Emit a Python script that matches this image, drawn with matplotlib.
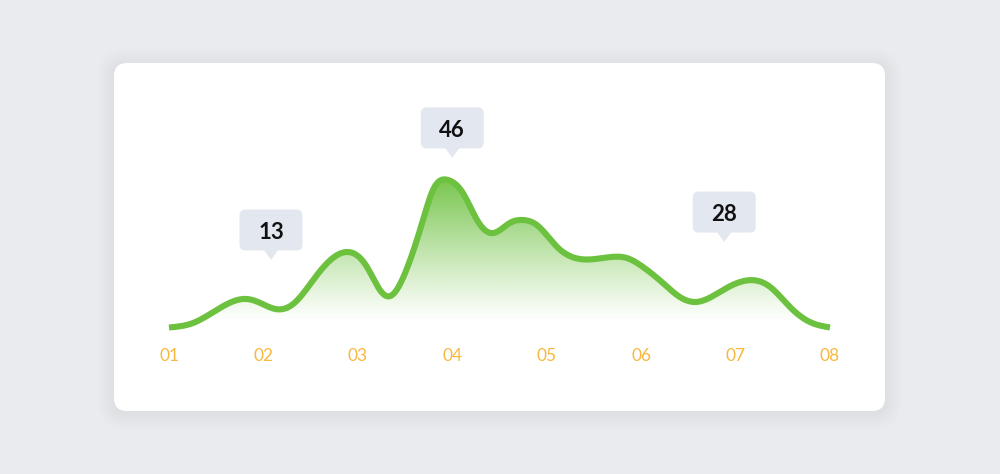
import numpy as np
import matplotlib
matplotlib.use('Agg')
import matplotlib.pyplot as plt
from matplotlib.patches import FancyBboxPatch, Polygon
from matplotlib.colors import to_rgb

# curve points (x = period, y = value)
xs = [1.0, 1.254, 1.540, 1.826, 1.964, 2.123, 2.313, 2.567, 2.885, 3.097,
      3.234, 3.340, 3.478, 3.690, 3.796, 3.955, 4.113, 4.262, 4.431, 4.611,
      4.749, 4.897, 5.109, 5.352, 5.670, 5.850, 6.020, 6.231, 6.411, 6.591,
      6.867, 7.153, 7.365, 7.576, 7.788, 8.0]
ys = [0.0, 1.4, 6.1, 8.9, 7.7, 5.8, 7.3, 16.4, 23.6, 18.9,
      11.7, 9.8, 15.5, 33.6, 43.0, 46.1, 42.0, 33.6, 29.5, 32.7,
      33.6, 32.0, 25.2, 21.4, 22.0, 21.7, 18.9, 13.9, 9.5, 8.0,
      11.7, 14.8, 12.7, 6.4, 1.7, 0.0]

tick_pos = [1, 2, 3, 4, 5, 6, 7, 8]
tick_labels = ['01', '02', '03', '04', '05', '06', '07', '08']

callout_labels = ['13', '46', '28']
callout_x = [2.08, 4.0, 6.88]
callout_tip = [21.1, 53.0, 26.7]

green = '#6cc13e'
orange = '#f8b840'
bg = '#e9ebef'
box_col = '#e3e7f0'


def natural_spline(px, py, n=1200):
    # smooth drawing of the read points (natural cubic spline)
    x = np.array(px, float)
    y = np.array(py, float)
    m = len(x)
    h = np.diff(x)
    A = np.zeros((m, m))
    r = np.zeros(m)
    A[0, 0] = 1
    A[-1, -1] = 1
    for i in range(1, m - 1):
        A[i, i - 1] = h[i - 1]
        A[i, i] = 2 * (h[i - 1] + h[i])
        A[i, i + 1] = h[i]
        r[i] = 3 * ((y[i + 1] - y[i]) / h[i] - (y[i] - y[i - 1]) / h[i - 1])
    c = np.linalg.solve(A, r)
    b = (y[1:] - y[:-1]) / h - h * (2 * c[:-1] + c[1:]) / 3
    d = (c[1:] - c[:-1]) / (3 * h)
    xx = np.linspace(x[0], x[-1], n)
    idx = np.clip(np.searchsorted(x, xx) - 1, 0, m - 2)
    dx = xx - x[idx]
    yy = y[idx] + b[idx] * dx + c[idx] * dx ** 2 + d[idx] * dx ** 3
    return xx, yy


fig = plt.figure(figsize=(10, 4.74), dpi=100)
fig.patch.set_facecolor(bg)

# background deco axes in pixel coords
deco = fig.add_axes([0, 0, 1, 1], zorder=0)
deco.set_xlim(0, 1000)
deco.set_ylim(474, 0)
deco.axis('off')
for k in range(12):
    grow = k * 1.5
    sh = FancyBboxPatch((114 - grow, 65 - grow), 771 + 2 * grow, 348 + 2 * grow,
                        boxstyle='round,pad=0,rounding_size=%f' % (13 + grow),
                        fc='#c2c6cf', ec='none', alpha=0.025)
    deco.add_patch(sh)
card = FancyBboxPatch((114, 63), 771, 348, boxstyle='round,pad=0,rounding_size=13',
                      fc='white', ec='none')
deco.add_patch(card)

ax = fig.add_axes([0.169, (474 - 327.5) / 474, 0.661, 160 / 474], zorder=1)
ax.set_xlim(1, 8)
ax.set_ylim(0, 50)
ax.patch.set_alpha(0)
for s in ax.spines.values():
    s.set_visible(False)
ax.set_yticks([])
ax.set_xticks(tick_pos)
ax.set_xticklabels(tick_labels, color=orange, fontsize=12.5, family='Lato', fontweight='normal')
ax.tick_params(axis='x', length=0, pad=15)

cx, cy = natural_spline(xs, ys)

# gradient fill under the curve
poly = ax.fill_between(cx, cy, 0, color='none', lw=0)
rgb = to_rgb(green)
grad = np.zeros((200, 2, 4))
yy = np.linspace(0, 50, 200)
a = np.clip((yy - 1.5) / 44.0, 0, 1) ** 1.1 * 0.9
grad[:, :, 0] = rgb[0]
grad[:, :, 1] = rgb[1]
grad[:, :, 2] = rgb[2]
grad[:, :, 3] = a[:, None]
im = ax.imshow(grad, extent=(1, 8, 0, 50), origin='lower', aspect='auto', zorder=1)
im.set_clip_path(poly.get_paths()[0], transform=ax.transData)

ax.plot(cx, cy, color=green, lw=4.4, solid_capstyle='butt', clip_on=False, zorder=3)

# callouts
asp = 94.43 / 3.2
for lab, x, tip in zip(callout_labels, callout_x, callout_tip):
    w = 63 / 94.43
    h = 41 / 3.2
    ybot = tip + 9.5 / 3.2
    b = FancyBboxPatch((x - w / 2, ybot), w, h,
                       boxstyle='round,pad=0,rounding_size=%f' % (6 / 94.43),
                       mutation_aspect=asp, fc=box_col, ec='none', clip_on=False, zorder=4)
    ax.add_patch(b)
    tri = Polygon([[x - 7.5 / 94.43, ybot + 0.3], [x + 7.5 / 94.43, ybot + 0.3], [x, tip]],
                  closed=True, fc=box_col, ec='none', clip_on=False, zorder=4)
    ax.add_patch(tri)
    ax.text(x, ybot + h / 2 - 0.9, lab, ha='center', va='center', fontsize=16,
            family='Lato', fontweight='bold', color='#111111', zorder=5, clip_on=False)

fig.savefig('out.png', dpi=100, facecolor=bg)
